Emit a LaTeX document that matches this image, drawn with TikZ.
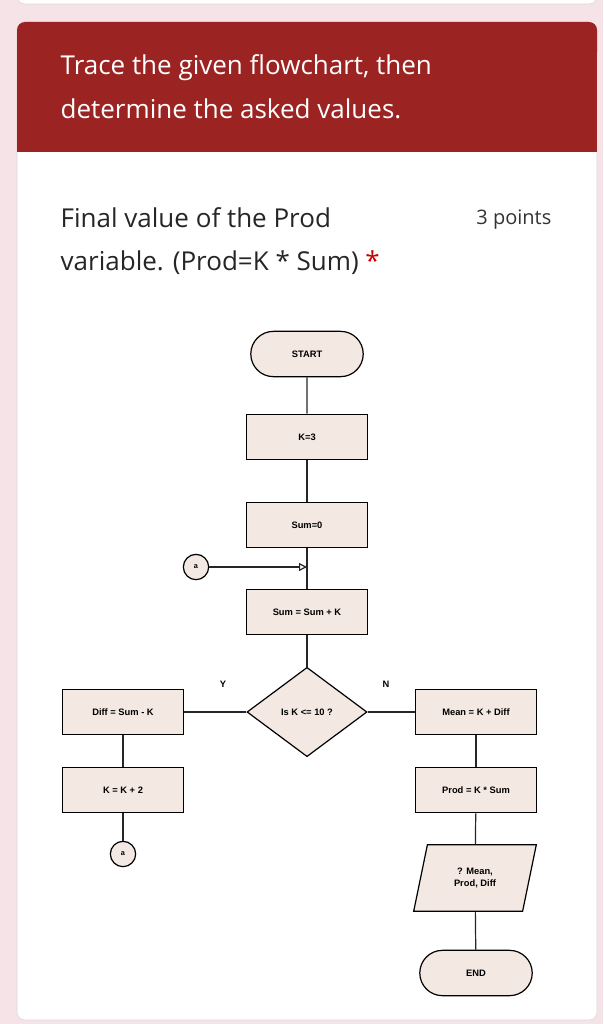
\documentclass[tikz,border=0pt]{standalone}
\usepackage{fontspec}
\setmainfont{Open Sans}
\newfontfamily\arial{Liberation Sans}
\usetikzlibrary{arrows.meta, shapes.geometric, shapes.misc}
\definecolor{hdr}{HTML}{9B2423}
\definecolor{pagebg}{HTML}{F6E3E8}
\definecolor{boxfill}{HTML}{F3E8E2}
\tikzset{
    fbox/.style={draw, line width=0.9pt, fill=boxfill, minimum width=91pt, minimum height=34pt, font=\arial\bfseries\fontsize{7}{9}\selectfont},
    term/.style={fbox, rounded rectangle},
    conn/.style={draw, circle, line width=0.9pt, fill=boxfill, minimum size=19pt, inner sep=0pt, font=\arial\bfseries\fontsize{5.5}{7}\selectfont},
    flow/.style={line width=0.9pt, draw=black!85}
}
\begin{document}
\begin{tikzpicture}[x=0.75pt, y=-0.75pt]
    \useasboundingbox (0,0) rectangle (603,1024);
    \fill[pagebg] (0,0) rectangle (603,1024);
    % card
    \draw[black!15, fill=white, rounded corners=6pt] (17,-20) rectangle (597,4);
    \draw[black!15, fill=white, rounded corners=6pt] (17,22) rectangle (597,1020);
    \fill[hdr, rounded corners=6pt] (17,22) rectangle (597,60);
    \fill[hdr] (17,40) rectangle (597,152);
    \node[anchor=west, white, font=\fontsize{19.5}{22}\selectfont] (t1) at (56,68) {Trace the given flowchart, then};
    \node[anchor=west, white, font=\fontsize{19.5}{22}\selectfont] (t2) at (56,109) {determine the asked values.};
    \node[anchor=west, font=\fontsize{19.5}{22}\selectfont, text=black!85] (q1) at (56,218) {Final value of the Prod};
    \node[anchor=west, font=\fontsize{19.5}{22}\selectfont, text=black!85] (q2) at (56,263) {variable. (Prod=K * Sum) \textcolor{red!80!black}{*}};
    \node[anchor=east, font=\fontsize{15}{18}\selectfont, text=black!80] (pts) at (556,220) {3 points};

    % flowchart
    \node[term] (start) at (307,354) {START};
    \node[fbox] (k3) at (307,437) {K=3};
    \node[fbox] (sum0) at (307,525) {Sum=0};
    \node[fbox] (sumk) at (307,612) {Sum = Sum + K};
    \node[diamond, draw, line width=0.9pt, fill=boxfill, minimum width=90pt, minimum height=67pt, inner sep=0pt,
          font=\arial\bfseries\fontsize{7}{9}\selectfont] (test) at (307,712) {Is K <= 10 ?};
    \node[fbox] (diff) at (123,712) {Diff = Sum - K};
    \node[fbox] (kk2) at (123,790) {K = K + 2};
    \node[conn] (a2) at (123,854) {a};
    \node[conn] (a1) at (196,567) {a};
    \coordinate (join) at (307,567);
    \node[fbox] (mean) at (476,712) {Mean = K + Diff};
    \node[fbox] (prod) at (476,790) {Prod = K * Sum};
    \node[trapezium, trapezium left angle=64, trapezium right angle=116, draw, line width=0.9pt, fill=boxfill,
          minimum width=92pt, minimum height=50pt, trapezium stretches body, font=\arial\bfseries\fontsize{7}{8.5}\selectfont, align=center] (out) at (475,878) {? Mean,\\Prod, Diff};
    \node[term] (end) at (476,973) {END};
    \node[font=\arial\bfseries\fontsize{7}{9}\selectfont] (ylab) at (223,684) {Y};
    \node[font=\arial\bfseries\fontsize{7}{9}\selectfont] (nlab) at (386,684) {N};

    \draw[flow] (start) -- (k3);
    \draw[flow] (k3) -- (sum0);
    \draw[flow] (sum0) -- (sumk);
    \draw[flow, -{Triangle[open, length=6pt, width=6pt]}] (a1) -- (join);
    \draw[flow] (sumk) -- (test);
    \draw[flow] (test) -- (diff);
    \draw[flow] (test) -- (mean);
    \draw[flow] (diff) -- (kk2);
    \draw[flow] (kk2) -- (a2);
    \draw[flow] (mean) -- (prod);
    \draw[flow] (prod) -- (out);
    \draw[flow] (out) -- (end);
\end{tikzpicture}
\end{document}
